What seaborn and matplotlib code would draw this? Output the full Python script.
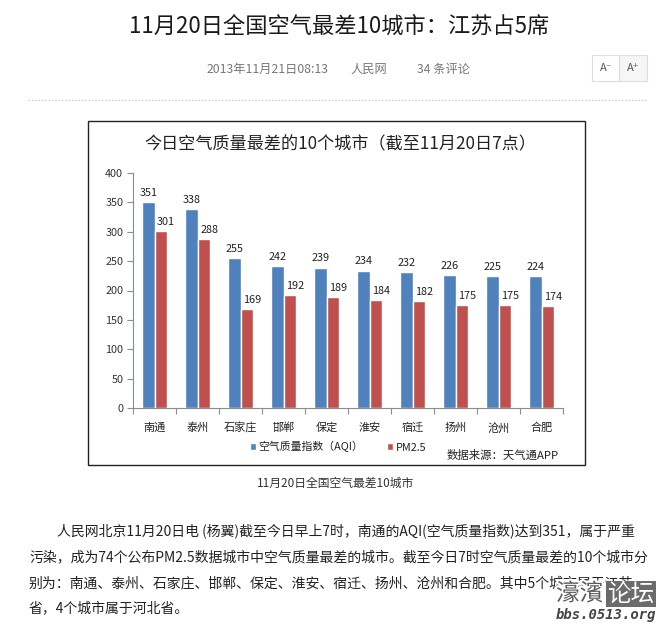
import numpy as np
import pandas as pd
import matplotlib
matplotlib.use("Agg")
import matplotlib.pyplot as plt
import matplotlib.patheffects as pe
from matplotlib.patches import Rectangle
from matplotlib.lines import Line2D
import seaborn as sns

# 数据
cities = ["南通", "泰州", "石家庄", "邯郸", "保定", "淮安", "宿迁", "扬州", "沧州", "合肥"]
aqi = [351, 338, 255, 242, 239, 234, 232, 226, 225, 224]
pm25 = [301, 288, 169, 192, 189, 184, 182, 175, 175, 174]
series_names = ["空气质量指数（AQI）", "PM2.5"]
yticks = [0, 50, 100, 150, 200, 250, 300, 350, 400]

page_title = "11月20日全国空气最差10城市：江苏占5席"
chart_title = "今日空气质量最差的10个城市（截至11月20日7点）"
caption = "11月20日全国空气最差10城市"
paragraph = [
    "人民网北京11月20日电 (杨翼)截至今日早上7时，南通的AQI(空气质量指数)达到351，属于严重",
    "污染，成为74个公布PM2.5数据城市中空气质量最差的城市。截至今日7时空气质量最差的10个城市分",
    "别为：南通、泰州、石家庄、邯郸、保定、淮安、宿迁、扬州、沧州和合肥。其中5个城市属于江苏",
    "省，4个城市属于河北省。",
]

blue = "#4F81BD"
red = "#C0504D"

sns.set_style("white")
plt.rcParams["font.family"] = ["Noto Sans CJK SC", "DejaVu Sans"]

W, H = 668, 627
fig = plt.figure(figsize=(W / 100, H / 100), dpi=100)
fig.patch.set_facecolor("white")


def px(x, y):
    return x / W, 1 - y / H


# 页面标题和信息栏
fig.text(*px(339, 26), page_title, fontsize=16, weight="medium", color="#1a1a1a", ha="center", va="center")
fig.text(*px(207, 69), "2013年11月21日08:13", fontsize=8.8, color="#777777", ha="left", va="center")
fig.text(*px(350, 69), "人民网", fontsize=8.8, color="#777777", ha="left", va="center")
fig.text(*px(417, 69), "34 条评论", fontsize=8.8, color="#777777", ha="left", va="center")

fig.patches.append(Rectangle(px(619, 81), 28 / W, 26 / H, transform=fig.transFigure,
                             facecolor="#f6f6f6", edgecolor="#dddddd", lw=0.8))
fig.patches.append(Rectangle(px(592, 81), 27 / W, 26 / H, transform=fig.transFigure,
                             facecolor="white", edgecolor="#dddddd", lw=0.8))
fig.text(*px(606, 68), "A⁻", fontsize=8, color="#555555", ha="center", va="center")
fig.text(*px(633, 68), "A⁺", fontsize=8, color="#555555", ha="center", va="center")

fig.lines.append(Line2D([28 / W, 647 / W], [1 - 100 / H] * 2, transform=fig.transFigure,
                        color="#cccccc", lw=0.8, linestyle=(0, (1.5, 1.5))))

# 图表外框
fig.patches.append(Rectangle(px(88, 465), (585 - 88) / W, (465 - 121) / H, transform=fig.transFigure,
                             facecolor="none", edgecolor="#222222", lw=1.0))
fig.text(*px(340, 144), chart_title, fontsize=12.3, weight="medium", color="#222222",
         ha="center", va="center")

# 柱状图
df = pd.DataFrame({
    "城市": cities * 2,
    "数值": aqi + pm25,
    "指标": [series_names[0]] * len(cities) + [series_names[1]] * len(cities),
})

ax = fig.add_axes([133 / W, 1 - 408 / H, (563 - 133) / W, (408 - 173) / H])
sns.barplot(data=df, x="城市", y="数值", hue="指标", palette=[blue, red],
            width=0.56, saturation=1, ax=ax, zorder=3)
ax.set_facecolor("none")
ax.set_xlim(-0.5, len(cities) - 0.5)
ax.set_ylim(0, 400)
ax.set_yticks(yticks)
ax.set_xlabel("")
ax.set_ylabel("")

for spine in ["top", "right"]:
    ax.spines[spine].set_visible(False)
for spine in ["left", "bottom"]:
    ax.spines[spine].set_color("#8c8c8c")
    ax.spines[spine].set_linewidth(0.8)

ax.tick_params(axis="y", left=True, length=4, width=0.8, color="#8c8c8c",
               labelsize=7.8, labelcolor="#333333", pad=3)
ax.tick_params(axis="x", which="major", bottom=False, labelsize=8, labelcolor="#222222", pad=7)
ax.set_xticks(np.arange(-0.5, len(cities), 1), minor=True)
ax.tick_params(axis="x", which="minor", bottom=True, length=4, width=0.8, color="#8c8c8c")
for lab in ax.get_xticklabels():
    lab.set_fontweight("medium")

# 数据标签
for i, cont in enumerate(ax.containers):
    dx = 0 if i == 0 else 4
    for bar in cont:
        h = bar.get_height()
        ax.annotate(f"{h:.0f}", (bar.get_x() + bar.get_width() / 2, h),
                    xytext=(dx, 3), textcoords="offset points",
                    ha="center", va="bottom", fontsize=7.8, color="#222222")

handles, labels = ax.get_legend_handles_labels()
ax.legend(handles, labels, loc="center", bbox_to_anchor=px(338, 447), bbox_transform=fig.transFigure,
          ncol=2, frameon=False, fontsize=7.8, handlelength=0.55, handleheight=0.55,
          handletextpad=0.25, columnspacing=2.2, labelcolor="#222222")

fig.text(*px(447, 455), "数据来源：天气通APP", fontsize=8.2, color="#222222", ha="left", va="center")

# 图片说明和正文
fig.text(*px(336, 483), caption, fontsize=8.5, color="#333333", ha="center", va="center")
line_y = [531, 557, 583, 608]
for k, (txt, y) in enumerate(zip(paragraph, line_y)):
    fig.text(*px(57 if k == 0 else 29, y), txt, fontsize=10, color="#222222", ha="left", va="center")

# 水印
fig.text(*px(556, 594), "濠濱", fontsize=17, color="#5c5c5c", ha="left", va="center",
         path_effects=[pe.withStroke(linewidth=3, foreground="white")])
fig.text(*px(631, 594), "论坛", fontsize=17, color="white", ha="center", va="center",
         bbox=dict(boxstyle="square,pad=0.05", facecolor="#6b6b6b", edgecolor="none"))
fig.text(*px(606, 615), "bbs.0513.org", fontsize=10, family="DejaVu Sans Mono",
         weight="bold", style="oblique", color="#444444", ha="center", va="center")

fig.savefig("out.png", dpi=100)
